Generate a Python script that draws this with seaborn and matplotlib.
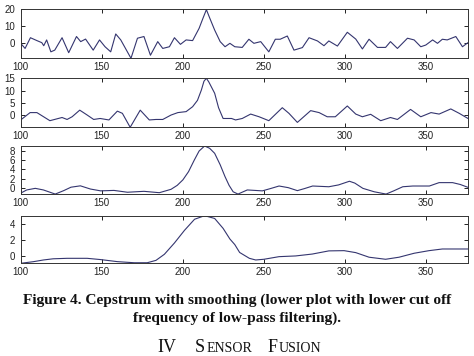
import numpy as np
import pandas as pd
import matplotlib
matplotlib.use("Agg")
import matplotlib.pyplot as plt
import seaborn as sns

# ---------------- data ----------------
x1 = [100, 102.7, 106, 110, 113, 114.2, 116, 118.6, 121, 125.5, 129.6, 134.4, 137, 140,
      144.7, 148.6, 152, 155.5, 158.6, 161.7, 168, 172, 176, 180, 184.5, 187.6, 191.7,
      194.8, 198.5, 202, 206, 210, 212.5, 214.5, 216.5, 219.6, 223, 226, 229, 232, 236.6,
      240.7, 243.8, 248, 253, 257, 260, 264.4, 268.5, 273.7, 277.8, 283, 287, 290, 295.3,
      301.4, 306.6, 310.7, 314.8, 320, 325, 328, 332.3, 338.5, 342.6, 346.7, 349.8, 354,
      357, 360, 363, 368.3, 372.4, 375.8]
y1 = [0, -3, 3.3, 1.6, 0.4, -1.4, 2, -5, -4, 3.3, -5.5, 4, 1, 2.5,
      -4, 2, -2, -5, 5.5, 2, -8.8, 3, 4, -7, 1, -3, -2,
      3.3, -0.6, 2, 1.6, 8.8, 15, 19.8, 15, 7.8, 1, -2, 0, -2, -2.4,
      2.4, 0, 1, -5, 2.4, 2.4, 4.3, -4, -2.5, 3.3, 1.4, -1.4, 1.4, -1.6,
      6.5, 2.5, -3.3, 2.4, -2.4, -2.4, 1, -3, 3, 2, -2, -1, 2,
      0, 2.4, 2, 4, -2, 0.4]

x2 = [100, 105.8, 110, 118, 125.5, 128.6, 131.7, 136.4, 141, 145, 149, 154.4, 159.6,
      162.7, 167.5, 173.7, 179.3, 183.4, 187.6, 192.7, 196.9, 202, 206, 209, 211.4, 213,
      214.5, 216, 219.6, 222, 224.8, 230, 232.5, 236.6, 241.8, 247, 253, 261.3, 265.4,
      270.6, 278.8, 284, 289, 294, 301.4, 306.6, 310.7, 315.8, 322, 328, 332.3, 340.4,
      346.7, 353, 358, 365.2, 370.4, 375.8]
y2 = [-2, 1, 1, -2.3, -1, -1.8, -0.7, 2, 0, -1.8, -1.4, -2, 1.6,
      0.7, -5, 2, -2, -1.8, -1.8, 0, 1, 1.4, 3.4, 6, 10.2, 13.8,
      15, 13.5, 8.9, 3, -1.4, -1.4, -2, -1.4, 0.4, -0.7, -2.3, 3, 0.7,
      -3, 1.8, 1, -0.7, -0.7, 3.7, 0.4, -0.7, 0.3, -2.3, -1, -1.8, 2.3,
      -0.7, 1, 0.4, 2.5, 0.7, -1.4]

x3 = [100, 103.7, 109, 114, 121.3, 126.5, 131, 136.8, 143, 149.3, 157.5, 165.8, 176,
      185.5, 192.7, 196.5, 200, 203.5, 207, 210, 213.4, 216.5, 219.6, 223, 226, 228.5,
      231, 234, 239.7, 249, 254, 259.3, 265, 270.6, 275, 280, 290, 296, 302.7, 306,
      311, 318, 325.3, 330, 335.6, 341.8, 352, 358, 366.3, 371, 375.8]
y3 = [-1.2, -0.5, -0.15, -0.5, -1.4, -0.65, 0.1, 0.4, -0.3, -0.7, -0.6, -1, -0.8,
      -1.1, -0.36, 0.5, 1.7, 3.5, 6, 8, 9.1, 8.6, 7.5, 5, 2.4, 0.5,
      -0.9, -1.4, -0.5, -0.7, -0.2, 0.36, 0, -0.65, -0.2, 0.36, 0.2, 0.6, 1.4, 1,
      -0.15, -0.9, -1.4, -0.7, 0.2, 0.36, 0.36, 1.1, 1.1, 0.7, 0.07]

x4 = [100, 108, 114, 120, 128.6, 141, 149.3, 159.6, 170, 178, 183.4, 188.6, 194.8,
      201, 207.2, 213.4, 219.6, 224.8, 229, 232, 235, 241, 244.9, 250, 259.3, 269.5,
      279.8, 290, 299.4, 306.6, 314.8, 325, 333.3, 342.6, 351.8, 360, 368.3, 375.8]
y4 = [-0.97, -0.76, -0.55, -0.4, -0.34, -0.34, -0.5, -0.76, -0.9, -0.9, -0.6, 0.17, 1.6,
      3.2, 4.6, 5.05, 4.7, 3.45, 2.1, 1.4, 0.4, -0.34, -0.55, -0.46, -0.13, -0.04,
      0.2, 0.6, 0.63, 0.38, -0.2, -0.46, -0.2, 0.3, 0.63, 0.84, 0.84, 0.84]

xticks = [100, 150, 200, 250, 300, 350]
yticks = [[0, 10, 20], [0, 5, 10, 15], [0, 2, 4, 6, 8], [0, 2, 4]]
ylims = [(-8.8, 20), (-5, 15), (-1.45, 9.1), (-0.97, 5.05)]

caption1 = "Figure 4. Cepstrum with smoothing (lower plot with lower cut off"
caption2 = "frequency of low-pass filtering)."
heading_parts = ["IV", "S", "ENSOR", "F", "USION"]

# ---------------- style ----------------
sns.set_style("ticks")
plt.rcParams["font.family"] = ["Liberation Sans", "DejaVu Sans"]
plt.rcParams["xtick.direction"] = "in"
plt.rcParams["ytick.direction"] = "in"

fig = plt.figure(figsize=(4.74, 3.56), dpi=100)
W, H = 474.0, 356.0
left_px, right_px = 20.7, 468.3
panels_px = [(9.3, 58.3), (78.3, 127.3), (146.0, 194.3), (215.7, 263.3)]
series = [(x1, y1), (x2, y2), (x3, y3), (x4, y4)]
line_color = "#34356f"

for i, ((top, bot), (xs, ys)) in enumerate(zip(panels_px, series)):
    ax = fig.add_axes([left_px / W, 1 - bot / H, (right_px - left_px) / W, (bot - top) / H])
    df = pd.DataFrame({"x": xs, "y": ys})
    sns.lineplot(data=df, x="x", y="y", ax=ax, color=line_color, linewidth=0.8,
                 estimator=None, sort=False)
    ax.set_xlim(100, 376)
    ax.set_ylim(*ylims[i])
    ax.set_xticks(xticks)
    ax.set_yticks(yticks[i])
    ax.set_xlabel("")
    ax.set_ylabel("")
    ax.tick_params(axis="both", which="both", direction="in", length=3, width=0.7,
                   labelsize=7, pad=3, colors="#222222", top=True, right=True)
    ax.tick_params(axis="y", pad=4)
    for s in ax.spines.values():
        s.set_linewidth(0.7)
        s.set_color("#333333")
        s.set_visible(True)

# ---------------- caption ----------------
fig.text(0.5, 1 - 300 / H, caption1, ha="center", va="center",
         family=["Liberation Serif"], fontweight="bold", fontsize=11.1, color="#111111")
fig.text(0.5, 1 - 318.5 / H, caption2, ha="center", va="center",
         family=["Liberation Serif"], fontweight="bold", fontsize=11.1, color="#111111")

# section heading in small caps
big, small = 13, 10
sizes = [big, big, small, big, small]
xs_px = [157, 195, 206.5, 268, 279]
for txt, size, xpx in zip(heading_parts, sizes, xs_px):
    fig.text(xpx / W, 4.5 / H, txt, ha="left", va="baseline",
             family=["Liberation Serif"], fontsize=size, color="#111111")

fig.savefig("out.png", dpi=100, facecolor="white")
